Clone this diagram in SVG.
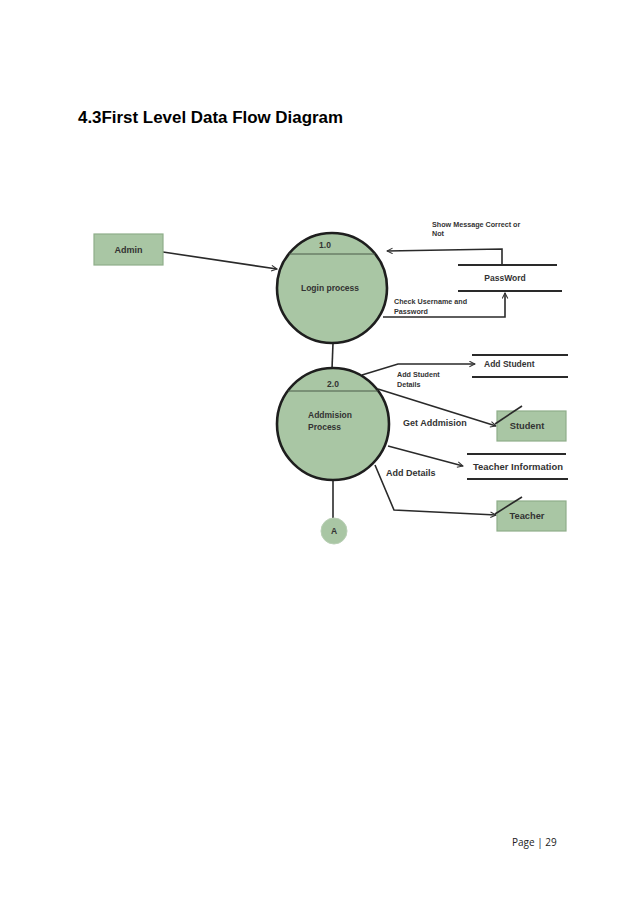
<svg xmlns="http://www.w3.org/2000/svg" width="638" height="903" viewBox="0 0 638 903">
<defs>
<marker id="ah" viewBox="0 0 10 10" refX="9" refY="5" markerWidth="7" markerHeight="7" orient="auto" markerUnits="userSpaceOnUse">
<path d="M1,1 L9,5 L1,9" fill="none" stroke="#333" stroke-width="1.5"/>
</marker>
</defs>
<style>
text{font-family:"Liberation Sans",Arial,sans-serif;fill:#333;font-weight:bold}
.t{font-size:8.5px}
.n{font-size:9.3px}
.s{font-size:7.2px}
.m{font-size:9px}
.box{fill:#a9c6a4;stroke:#8fae8a;stroke-width:1.2}
.proc{fill:#a9c6a4;stroke:#1e1e1e;stroke-width:2.6}
.ln{fill:none;stroke:#2a2a2a;stroke-width:1.6}
.st{fill:none;stroke:#2a2a2a;stroke-width:1.8}
</style>
<rect width="638" height="903" fill="#fff"/>
<text x="78" y="123" style="font-size:16px;fill:#000" textLength="265" lengthAdjust="spacingAndGlyphs">4.3First Level Data Flow Diagram</text>

<g id="connectors">
<line class="ln" x1="163" y1="252" x2="277" y2="269" marker-end="url(#ah)"/>
<polyline class="ln" points="502,265 502,249 387,251" marker-end="url(#ah)"/>
<polyline class="ln" points="383,317 505,317 505,293" marker-end="url(#ah)"/>
<line class="ln" x1="333" y1="343" x2="332" y2="369"/>
<polyline class="ln" points="362,375 398,364 475,364" marker-end="url(#ah)"/>
<line class="ln" x1="378" y1="389" x2="496" y2="426" marker-end="url(#ah)"/>
<line class="ln" x1="388" y1="446" x2="463" y2="466" marker-end="url(#ah)"/>
<polyline class="ln" points="375,465 394,510 496,515" marker-end="url(#ah)"/>
<line class="ln" x1="333" y1="480" x2="333" y2="518"/>
</g>

<g id="admin">
<rect class="box" x="94" y="234" width="69" height="31"/>
<text class="m" x="128.5" y="253" text-anchor="middle">Admin</text>
</g>

<g id="p1">
<circle class="proc" cx="332" cy="288" r="55"/>
<line x1="289" y1="254" x2="375" y2="254" stroke="#4a5a48" stroke-width="1"/>
<text class="t" x="325" y="248" text-anchor="middle">1.0</text>
<text class="t" x="330" y="291" text-anchor="middle">Login process</text>
</g>

<g id="password">
<line class="st" x1="458" y1="265" x2="557" y2="265"/>
<line class="st" x1="458" y1="291" x2="562" y2="291"/>
<text class="t" x="505" y="281" text-anchor="middle">PassWord</text>
</g>

<g id="labels1">
<text class="s" x="432" y="227">Show Message Correct or</text>
<text class="s" x="432" y="236">Not</text>
<text class="s" x="394" y="304">Check Username and</text>
<text class="s" x="394" y="314">Password</text>
</g>

<g id="p2">
<circle class="proc" cx="333" cy="424" r="56"/>
<line x1="288" y1="391" x2="378" y2="391" stroke="#4a5a48" stroke-width="1"/>
<text class="t" x="333" y="387" text-anchor="middle">2.0</text>
<text class="t" x="308" y="418">Addmision</text>
<text class="t" x="308" y="430">Process</text>
</g>

<g id="addstudent">
<line class="st" x1="472" y1="355" x2="568" y2="355"/>
<line class="st" x1="472" y1="377" x2="568" y2="377"/>
<text class="t" x="484" y="367">Add Student</text>
</g>

<g id="labels2">
<text class="s" x="397" y="377">Add Student</text>
<text class="s" x="397" y="387">Details</text>
<text class="m" x="403" y="426">Get Addmision</text>
<text class="m" x="386" y="476">Add Details</text>
</g>

<g id="student">
<rect class="box" x="497" y="411" width="69" height="30"/>
<line class="ln" x1="495" y1="424" x2="522" y2="406"/>
<text class="n" x="527" y="429" text-anchor="middle">Student</text>
</g>

<g id="teacherinfo">
<line class="st" x1="467" y1="454" x2="566" y2="454"/>
<line class="st" x1="467" y1="479" x2="568" y2="479"/>
<text x="473" y="470" style="font-size:9.3px" textLength="90" lengthAdjust="spacingAndGlyphs">Teacher Information</text>
</g>

<g id="teacher">
<rect class="box" x="497" y="501" width="69" height="30"/>
<line class="ln" x1="495" y1="514" x2="522" y2="497"/>
<text class="n" x="527" y="519" text-anchor="middle">Teacher</text>
</g>

<g id="connA">
<circle cx="334" cy="531" r="13" fill="#a9c6a4" stroke="#b9cfb5" stroke-width="1"/>
<text class="t" x="334" y="534" text-anchor="middle">A</text>
</g>

<text x="512" y="846" style="font-size:10px;font-weight:normal;fill:#222;font-family:'Open Sans','Liberation Sans',sans-serif">Page | 29</text>
</svg>
